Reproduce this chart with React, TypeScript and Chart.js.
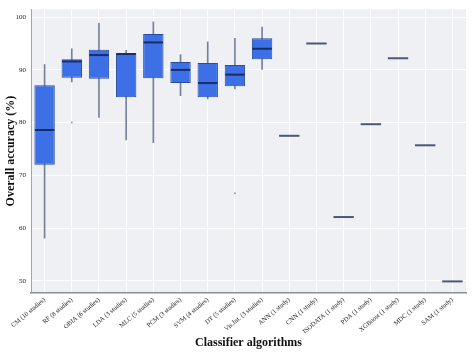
import { useEffect, useRef } from "react";
import { Chart, registerables } from "chart.js";

Chart.register(...registerables);

const categories = [
  "CM (10 studies)",
  "RF (8 studies)",
  "OBIA (6 studies)",
  "LDA (3 studies)",
  "MLC (5 studies)",
  "PCM (3 studies)",
  "SVM (4 studies)",
  "DT (5 studies)",
  "Vis.Int. (3 studies)",
  "ANN (1 study)",
  "CNN (1 study)",
  "ISODATA (1 study)",
  "PDA (1 study)",
  "XGBoost (1 study)",
  "MDC (1 study)",
  "SAM (1 study)",
];

// Box statistics (only for multi-study classifiers)
const whiskerLow = [58.1, 87.7, 81.0, 76.7, 76.2, 85.1, 84.5, 86.4, 90.1];
const q1 = [72.0, 88.5, 88.3, 84.8, 88.4, 87.5, 84.8, 86.9, 92.0];
const q3 = [87.1, 92.0, 93.8, 93.2, 96.8, 91.5, 91.3, 90.9, 96.0];
const whiskerHigh = [91.0, 94.0, 98.8, 93.7, 99.1, 92.9, 95.3, 96.0, 98.1];
// Median (or single value for 1-study classifiers)
const medians = [78.6, 91.6, 92.8, 93.0, 95.2, 90.0, 87.5, 89.1, 94.0, 77.5, 95.0, 62.1, 79.7, 92.2, 75.7, 49.9];
// Outliers
const outliers: (number | null)[] = [null, 80.0, null, null, null, null, null, 66.6, null, null, null, null, null, null, null, null];

const yTicks = [50, 60, 70, 80, 90, 100];
const yMin = 47.7;
const yMax = 101.5;

const SERIF = "'Liberation Serif', 'Times New Roman', serif";

export default function App() {
  const ref = useRef<HTMLCanvasElement>(null);

  useEffect(() => {
    document.body.style.margin = "0";
    const whiskerData = categories.map((_, i) =>
      i < whiskerLow.length ? [whiskerLow[i], whiskerHigh[i]] : null
    );
    const boxData = categories.map((_, i) => (i < q1.length ? [q1[i], q3[i]] : null));

    const bgPlugin = {
      id: "bg",
      beforeDraw(chart: any) {
        const { ctx, chartArea } = chart;
        ctx.save();
        ctx.fillStyle = "#eef0f3";
        ctx.fillRect(chartArea.left, chartArea.top, chartArea.right - chartArea.left, chartArea.bottom - chartArea.top);
        ctx.restore();
      },
    };

    const medianPlugin = {
      id: "medians",
      afterDatasetsDraw(chart: any) {
        const { ctx } = chart;
        const xs = chart.scales.x;
        const ys = chart.scales.y;
        const half = (xs.getPixelForValue(1) - xs.getPixelForValue(0)) * 0.375;
        ctx.save();
        medians.forEach((m, i) => {
          const cx = xs.getPixelForValue(i);
          const py = ys.getPixelForValue(m);
          ctx.strokeStyle = i < q1.length ? "#1b2c62" : "#4b5877";
          ctx.lineWidth = 2;
          ctx.beginPath();
          ctx.moveTo(cx - half + (i < q1.length ? 0.5 : 0), py);
          ctx.lineTo(cx + half - (i < q1.length ? 0.5 : 0), py);
          ctx.stroke();
        });
        ctx.restore();
      },
    };

    const chart = new Chart(ref.current!, {
      type: "bar",
      data: {
        labels: categories,
        datasets: [
          {
            type: "bar",
            data: whiskerData as any,
            backgroundColor: "#76829a",
            barThickness: 1,
            grouped: false,
            order: 3,
          } as any,
          {
            type: "bar",
            data: boxData as any,
            backgroundColor: "#3d6fe6",
            borderColor: "#2a4c9e",
            borderWidth: 1,
            borderSkipped: false,
            barPercentage: 0.75,
            categoryPercentage: 1,
            grouped: false,
            order: 2,
          } as any,
          {
            type: "line",
            data: outliers as any,
            showLine: false,
            pointRadius: 1,
            pointBackgroundColor: "#9aa2ad",
            pointBorderWidth: 0,
            order: 1,
          } as any,
        ],
      },
      options: {
        responsive: false,
        animation: false,
        devicePixelRatio: 1,
        layout: { padding: { top: 8, right: 8, left: 0, bottom: 0 } },
        plugins: { legend: { display: false }, tooltip: { enabled: false } },
        scales: {
          x: {
            afterFit: (s: any) => {
              s.height = 61;
            },
            grid: { color: "rgba(255,255,255,0.9)", drawTicks: false, offset: false },
            border: { color: "#8a8f96", width: 1.5 },
            ticks: {
              autoSkip: false,
              minRotation: 40,
              maxRotation: 40,
              padding: 3,
              color: "#222",
              font: { family: SERIF, size: 6.5 },
            },
            title: {
              display: true,
              text: "Classifier algorithms",
              color: "#111",
              font: { family: SERIF, size: 12, weight: "bold" },
              padding: { top: 0, bottom: 4 },
            },
          },
          y: {
            min: yMin,
            max: yMax,
            afterFit: (s: any) => {
              s.width = 31;
            },
            afterBuildTicks: (s: any) => {
              s.ticks = yTicks.map((v) => ({ value: v }));
            },
            grid: { color: "rgba(255,255,255,0.9)", drawTicks: false },
            border: { color: "#a0a5ab", width: 1 },
            ticks: {
              padding: 5,
              color: "#222",
              font: { family: SERIF, size: 7 },
            },
            title: {
              display: true,
              text: "Overall accuracy (%)",
              color: "#111",
              font: { family: SERIF, size: 12, weight: "bold" },
              padding: { top: 4, bottom: 0 },
            },
          },
        },
      },
      plugins: [bgPlugin, medianPlugin],
    } as any);

    return () => chart.destroy();
  }, []);

  return <canvas ref={ref} width={474} height={354} />;
}
